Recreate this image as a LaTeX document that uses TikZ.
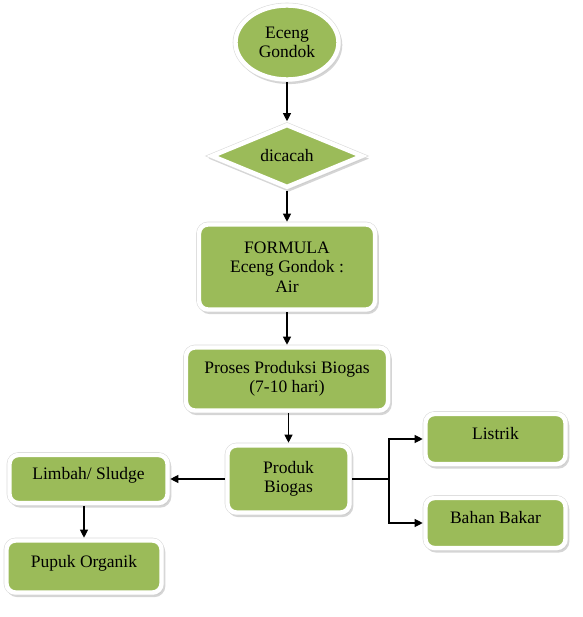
\documentclass[tikz,border=0pt]{standalone}
\usepackage{fontspec}
\setmainfont{Liberation Serif}
\usetikzlibrary{shapes.geometric,arrows.meta}
\definecolor{boxgreen}{RGB}{155,187,89}
\tikzset{
  x=1pt,y=-1pt,
  greenbox/.style={
    preaction={draw=black!30,fill=black!30,line width=4pt,opacity=.55,
      transform canvas={xshift=1.8pt,yshift=-2.6pt}},
    preaction={draw=black!14,line width=5.6pt},
    fill=boxgreen,draw=white,line width=4.4pt,
    outer sep=2.8pt,inner sep=0pt,align=center,
    font=\fontsize{17.5}{19.5}\selectfont},
  roundbox/.style={greenbox,rectangle,rounded corners=9pt},
  raisedtext/.style={text height=12pt,text depth=11pt},
  arr/.style={-{Triangle[length=8pt,width=8pt]},line width=1.1pt,black},
  ln/.style={line width=1.1pt,black}
}
\begin{document}
\begin{tikzpicture}
\useasboundingbox (0,0) rectangle (582,617);
\node[greenbox,ellipse,minimum width=103pt,minimum height=74pt] (eceng) at (287,42.5) {Eceng\\Gondok};
\node[greenbox,diamond,aspect=2.4,minimum width=152pt,minimum height=64pt] (cacah) at (287,156) {dicacah};
\node[roundbox,minimum width=176pt,minimum height=85pt] (formula) at (287,267) {FORMULA\\Eceng Gondok :\\Air};
\node[roundbox,minimum width=202pt,minimum height=63pt] (proses) at (287,379) {Proses Produksi Biogas\\(7-10 hari)};
\node[roundbox,minimum width=122pt,minimum height=67pt] (produk) at (288.5,479) {Produk\\Biogas};
\node[roundbox,raisedtext,minimum width=140pt,minimum height=50pt] (listrik) at (495.5,439) {Listrik};
\node[roundbox,raisedtext,minimum width=140pt,minimum height=50pt] (bahan) at (495.5,523) {Bahan Bakar};
\node[roundbox,raisedtext,minimum width=158pt,minimum height=48pt] (limbah) at (88.5,479) {Limbah/ Sludge};
\node[roundbox,raisedtext,minimum width=155pt,minimum height=52pt] (pupuk) at (84,566.5) {Pupuk Organik};
\coordinate (branch) at (389,479);
\draw[arr] (eceng) -- (cacah);
\draw[arr] (cacah) -- (formula);
\draw[arr] (formula) -- (proses);
\draw[arr] (proses.south -| produk.north) -- (produk.north);
\draw[arr] (produk) -- (limbah);
\draw[ln] (produk.east) -- (branch);
\draw[arr] (branch) |- (listrik.west);
\draw[arr] (branch) |- (bahan.west);
\draw[arr] (pupuk.north |- limbah.south) -- (pupuk.north);
\end{tikzpicture}
\end{document}
